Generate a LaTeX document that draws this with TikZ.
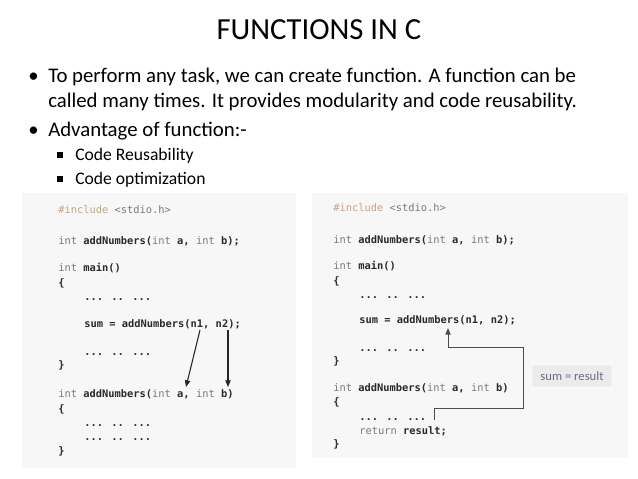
\documentclass[tikz,border=0pt]{standalone}
\usepackage{fontspec}
\setmainfont{Carlito}
\newfontfamily\codefont{DejaVu Sans Mono}
\usetikzlibrary{arrows.meta}
\definecolor{kw}{HTML}{7A7A7A}
\definecolor{inc}{HTML}{C9A47A}
\definecolor{cd}{HTML}{2A2A2A}
\definecolor{srt}{HTML}{6A6F86}
\newcommand{\kw}[1]{{\mdseries\color{kw}#1}}
\tikzset{
  code/.style={anchor=base west,inner sep=0pt,font=\codefont\bfseries\fontsize{7.8}{9}\selectfont,text=cd},
  body/.style={anchor=base west,inner sep=0pt,font=\fontsize{15.6}{18}\selectfont},
  sub/.style={anchor=base west,inner sep=0pt,font=\fontsize{13.2}{15}\selectfont},
  sqb/.style={fill=black,inner sep=0pt,minimum size=4.5pt},
  arr/.style={-{Triangle[length=5pt,width=4pt]},line width=0.8pt,draw=black!85},
}
\begin{document}
\begin{tikzpicture}[x=0.75pt,y=-0.75pt]
\useasboundingbox (0,0) rectangle (638,478);
\fill[white] (0,0) rectangle (638,478);
\fill[black!3] (22,193) rectangle (296,468);
\fill[black!3] (312,193) rectangle (628,458);
\node (title) at (319,30) {\fontsize{23}{26}\selectfont FUNCTIONS IN C};
\node[body] (b1) at (28,82) {•};
\node[body] (t1) at (48,82) {To perform any task, we can create function. A function can be};
\node[body] (t2) at (48,107) {called many times. It provides modularity and code reusability.};
\node[body] (b2) at (28,136) {•};
\node[body] (t3) at (48,136) {Advantage of function:-};
\node[sqb] (s1b) at (60,155) {};
\node[sub] (s1) at (75,160) {Code Reusability};
\node[sqb] (s2b) at (60,179) {};
\node[sub] (s2) at (75,184) {Code optimization};
% left code
\node[code] (l1) at (58,213) {{\mdseries\color{inc}\#include} {\mdseries\color{kw}<stdio.h>}};
\node[code] (l2) at (58,244) {\kw{int} addNumbers(\kw{int} a, \kw{int} b);};
\node[code] (l3) at (58,271) {\kw{int} main()};
\node[code] (l4) at (58,286) {\{};
\node[code] (l5) at (84,300) {... .. ...};
\node[code] (l6) at (84,327) {sum = addNumbers(n1, n2);};
\node[code] (l7) at (84,355) {... .. ...};
\node[code] (l8) at (58,368) {\}};
\node[code] (l9) at (58,397) {\kw{int} addNumbers(\kw{int} a, \kw{int} b)};
\node[code] (l10) at (58,412) {\{};
\node[code] (l11) at (84,426) {... .. ...};
\node[code] (l12) at (84,440) {... .. ...};
\node[code] (l13) at (58,454) {\}};
\coordinate (n1) at (200,330);
\coordinate (n2) at (228,330);
\coordinate (pa) at (186,387);
\coordinate (pb) at (228,387);
\draw[arr] (n1) -- (pa);
\draw[arr] (n2) -- (pb);
% right code
\node[code] (r1) at (333,211) {{\mdseries\color{inc}\#include} {\mdseries\color{kw}<stdio.h>}};
\node[code] (r2) at (333,243) {\kw{int} addNumbers(\kw{int} a, \kw{int} b);};
\node[code] (r3) at (333,269) {\kw{int} main()};
\node[code] (r4) at (333,284) {\{};
\node[code] (r5) at (359,298) {... .. ...};
\node[code] (r6) at (359,323) {sum = addNumbers(n1, n2);};
\node[code] (r7) at (359,351) {... .. ...};
\node[code] (r8) at (333,364) {\}};
\node[code] (r9) at (333,391) {\kw{int} addNumbers(\kw{int} a, \kw{int} b)};
\node[code] (r10) at (333,405) {\{};
\node[code] (r11) at (359,420) {... .. ...};
\node[code] (r12) at (359,434) {\kw{return} result;};
\node[code] (r13) at (333,447) {\}};
\node[fill=black!8,rounded corners=1pt,text=srt,font=\fontsize{9.5}{11}\selectfont,minimum width=59pt,minimum height=16pt,inner sep=0pt] (sr) at (572,376) {sum = result};
\coordinate (c0) at (434,420);
\coordinate (c1) at (434,408);
\coordinate (c2) at (523,408);
\coordinate (c3) at (523,347);
\coordinate (c4) at (448,347);
\coordinate (c5) at (448,328);
\draw[arr,line width=0.7pt,draw=black!70] (c0) -- (c1) -- (c2) -- (c3) -- (c4) -- (c5);
\end{tikzpicture}
\end{document}
